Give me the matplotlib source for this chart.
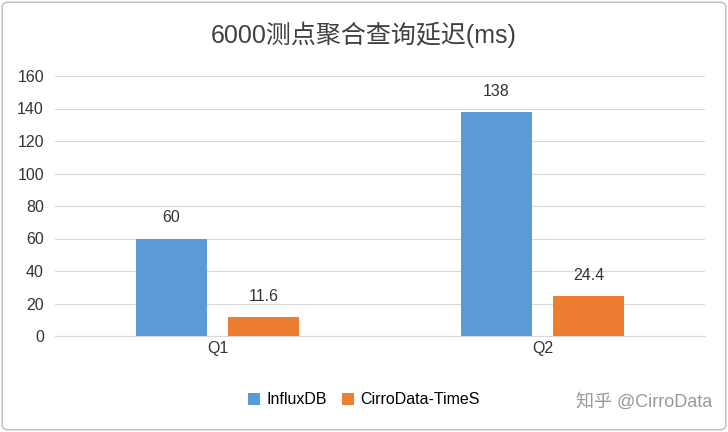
import matplotlib
matplotlib.use("Agg")
import matplotlib.pyplot as plt
import numpy as np
from matplotlib.patches import FancyBboxPatch

plt.rcParams['font.family'] = ['Liberation Sans', 'Noto Sans CJK SC', 'DejaVu Sans']

categories = ["Q1", "Q2"]
series_names = ["InfluxDB", "CirroData-TimeS"]
influx = [60, 138]
cirro = [11.6, 24.4]
labels_influx = ["60", "138"]
labels_cirro = ["11.6", "24.4"]
colors = ["#5B9BD5", "#ED7D31"]

fig = plt.figure(figsize=(7.28, 4.32), dpi=100)
ax = fig.add_axes([55/728, 1-336/432, 650/728, 260/432])
x = np.arange(len(categories))
w = 0.22
off = 0.142
b1 = ax.bar(x - off, influx, w, color=colors[0], label=series_names[0], zorder=3)
b2 = ax.bar(x + off, cirro, w, color=colors[1], label=series_names[1], zorder=3)
for bars, labs in ((b1, labels_influx), (b2, labels_cirro)):
    for r, l in zip(bars, labs):
        ax.text(r.get_x() + r.get_width()/2, r.get_height() + 8, l,
                ha='center', va='bottom', fontsize=11.5, color='#333333')
ax.set_xlim(-0.5, 1.5)
ax.set_ylim(0, 160)
ax.set_yticks(range(0, 161, 20))
ax.set_xticks(x)
ax.set_xticklabels(categories)
ax.tick_params(axis='both', length=0, labelsize=11.5, colors='#333333')
ax.tick_params(axis='y', pad=8)
ax.grid(axis='y', color='#D9D9D9', lw=0.8, zorder=0)
for s in ['top', 'right', 'left']:
    ax.spines[s].set_visible(False)
ax.spines['bottom'].set_color('#D9D9D9')
fig.text(0.5, 1-35/432, "6000测点聚合查询延迟(ms)", ha='center', va='center',
         fontsize=18, color='#404040')
fig.legend(handles=[b1, b2], labels=series_names, loc='center',
           bbox_to_anchor=(0.5, 1-400/432), ncol=2, frameon=False,
           fontsize=11.5, handlelength=0.7, handleheight=0.7, columnspacing=1.0,
           handletextpad=0.4)
fig.text(0.978, 1-402/432, "知乎 @CirroData", ha='right', va='center',
         fontsize=13, color='#999999')
fig.patches.append(FancyBboxPatch((0.003, 0.005), 0.994, 0.99,
                   boxstyle="round,pad=0,rounding_size=0.01",
                   transform=fig.transFigure, fill=False, ec='#BFBFBF', lw=1))
fig.savefig("out.png", dpi=100)
